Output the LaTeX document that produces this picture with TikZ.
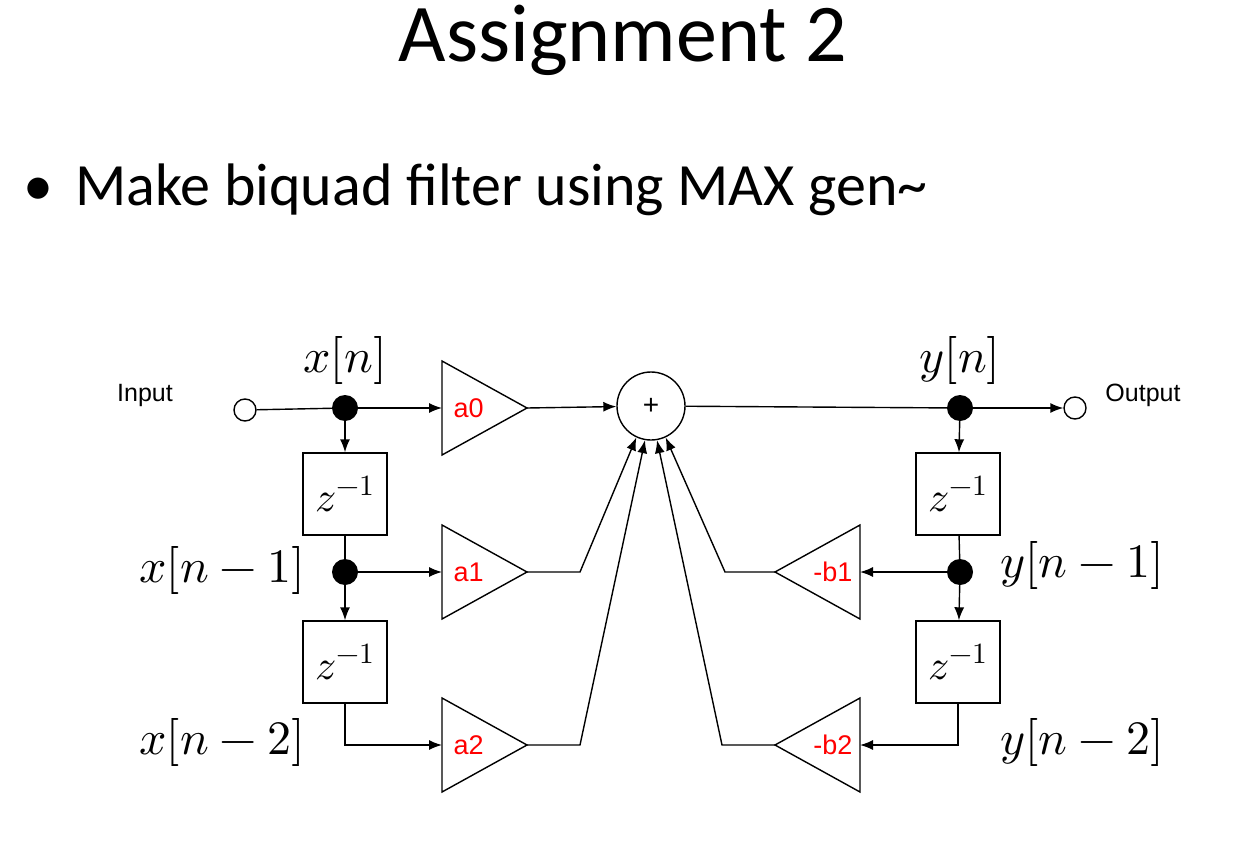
\documentclass[tikz,border=0pt]{standalone}
\usepackage{unicode-math}
\setmainfont{Carlito}
\setmathfont{Latin Modern Math}
\newfontfamily\lsans{Liberation Sans}
\usetikzlibrary{arrows.meta}
\begin{document}
\begin{tikzpicture}[x=1pt,y=-1pt,
  ln/.style={line width=1.4pt,-{Latex[length=13pt,width=10pt]}},
  pl/.style={line width=1.4pt},
  dot/.style={circle,fill=black,minimum size=26pt,inner sep=0},
  port/.style={circle,draw,line width=1.4pt,minimum size=22pt,inner sep=0},
  dbox/.style={draw,line width=1.4pt,minimum width=84pt,minimum height=82pt,font=\fontsize{42}{42}\selectfont},
  gl/.style={text=red,font=\lsans\fontsize{27}{27}\selectfont},
  lab/.style={font=\fontsize{48}{48}\selectfont},
  io/.style={font=\lsans\fontsize{25}{25}\selectfont}]
\useasboundingbox (0,0) rectangle (1246,850);
\node at (623,40) {\fontsize{82}{82}\selectfont Assignment 2};
\node[anchor=west] at (20,190) {\fontsize{60}{60}\selectfont\textbullet\hspace{22pt}Make biquad filter using MAX gen\textasciitilde};
% ports and dots
\node[port] (in) at (245,410) {};
\node[port] (out) at (1075,408) {};
\node[io] at (145,395) {Input};
\node[io] at (1143,395) {Output};
\node[dot] (x0) at (345,408) {};
\node[dot] (x1) at (345,572) {};
\node[dot] (y0) at (960,408) {};
\node[dot] (y1) at (960,572) {};
\node[dbox] (dx1) at (345,494) {$z^{-1}$};
\node[dbox] (dx2) at (345,662) {$z^{-1}$};
\node[dbox] (dy1) at (958,494) {$z^{-1}$};
\node[dbox] (dy2) at (958,662) {$z^{-1}$};
\node[draw,circle,line width=1.4pt,minimum size=68pt,inner sep=0,font=\lsans\fontsize{28}{28}\selectfont] (sum) at (651,406) {+};
% triangles
\foreach \n/\y/\t in {a0/408/a0,a1/572/a1,a2/745/a2}{
  \draw[pl] (442,\y-47) -- (527,\y) -- (442,\y+47) -- cycle;
  \coordinate (\n o) at (527,\y); \coordinate (\n i) at (442,\y);
  \node[gl,anchor=west] at (450,\y) {\t};}
\foreach \n/\y/\t in {b1/572/-b1,b2/745/-b2}{
  \draw[pl] (860,\y-47) -- (775,\y) -- (860,\y+47) -- cycle;
  \coordinate (\n o) at (775,\y); \coordinate (\n i) at (860,\y);
  \node[gl,anchor=east] at (856,\y) {\t};}
% labels
\node[lab] at (345,360) {$x[n]$};
\node[lab] at (222,570) {$x[n-1]$};
\node[lab] at (222,742) {$x[n-2]$};
\node[lab] at (960,360) {$y[n]$};
\node[lab] at (1082,565) {$y[n-1]$};
\node[lab] at (1082,742) {$y[n-2]$};
% connectors
\draw[pl] (in) -- (x0);
\draw[ln] (x0) -- (a0i);
\draw[ln] (x0) -- (dx1);
\draw[pl] (dx1) -- (x1);
\draw[ln] (x1) -- (a1i);
\draw[ln] (x1) -- (dx2);
\draw[ln] (dx2.south) |- (a2i);
\draw[ln] (a0o) -- (sum);
\coordinate (c1) at (580,572); \coordinate (c2) at (580,745);
\coordinate (c3) at (725,572); \coordinate (c4) at (722,745);
\draw[ln] (a1o) -- (c1) -- (sum.-115);
\draw[ln] (a2o) -- (c2) -- (sum.-100);
\draw[ln] (b1o) -- (c3) -- (sum.-65);
\draw[ln] (b2o) -- (c4) -- (sum.-80);
\draw[pl] (sum) -- (y0);
\draw[ln] (y0) -- (out);
\draw[ln] (y0) -- (dy1);
\draw[pl] (dy1) -- (y1);
\draw[ln] (y1) -- (b1i);
\draw[ln] (y1) -- (dy2);
\draw[ln] (dy2.south) |- (b2i);
\end{tikzpicture}
\end{document}
